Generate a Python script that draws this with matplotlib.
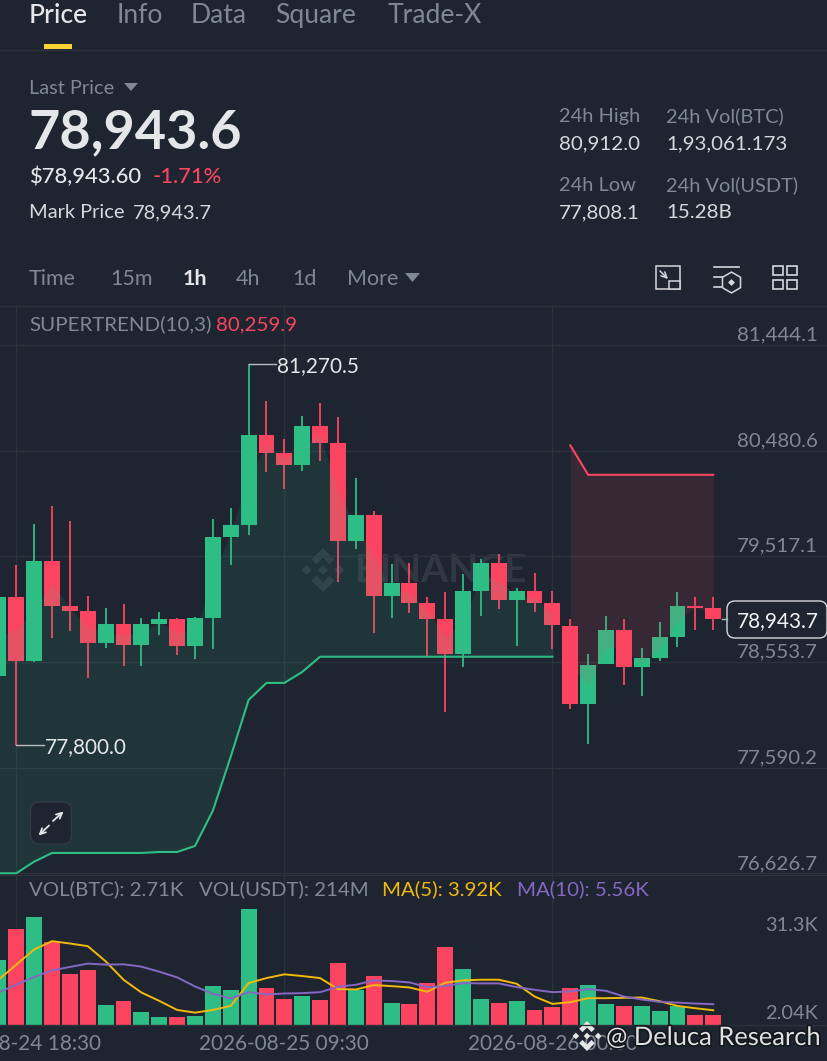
import matplotlib
matplotlib.use("Agg")
import matplotlib.pyplot as plt
import matplotlib.patheffects as pe
from matplotlib.patches import FancyBboxPatch, Polygon, Rectangle
import numpy as np

plt.rcParams['font.family'] = ['Lato', 'DejaVu Sans']

# candle values, one hour per candle
opens = [78426, 79143, 78563, 79477, 79067, 79019, 78724, 78897, 78711, 78903, 78943, 78702, 78952, 79696,
         79802, 80626, 80456, 80347, 80705, 80547, 79657, 79894, 79158, 79271, 79095, 78946, 78627, 79204,
         79459, 79119, 79198, 79089, 78885, 78168, 78532, 78845, 78506, 78587, 78779, 79067, 79046]
closes = [79143, 78563, 79477, 79067, 79019, 78724, 78897, 78711, 78903, 78943, 78702, 78952, 79696, 79802,
          80626, 80456, 80347, 80705, 80547, 79657, 79894, 79158, 79271, 79095, 78946, 78627, 79204, 79459,
          79119, 79198, 79089, 78891, 78168, 78529, 78845, 78506, 78587, 78779, 79067, 79049, 78943]
highs = [79143, 79438, 79809, 79973, 79836, 79155, 79049, 79082, 78958, 79009, 78955, 78967, 79855, 79955,
         81270.5, 80930, 80587, 80796, 80912, 80784, 80231, 79928, 79447, 79456, 79149, 79189, 79356, 79493,
         79538, 79226, 79362, 79198, 78943, 78630, 78976, 78943, 78679, 78921, 79195, 79143, 79143]
lows = [78426, 77800, 78554, 78775, 78836, 78408, 78679, 78517, 78517, 78803, 78618, 78578, 78675, 79438,
        79712, 80283, 80128, 80298, 80383, 79286, 79581, 78821, 78958, 79003, 78609, 78096, 78506, 78976,
        79034, 78703, 79007, 78675, 78128, 77808, 78532, 78344, 78247, 78560, 78693, 78848, 78846]

st_up = [76628, 76628, 76734, 76813, 76813, 76813, 76813, 76813, 76813, 76822, 76822, 76877, 77199, 77691,
         78208, 78363, 78363, 78463, 78602, 78602, 78602, 78602, 78602, 78602, 78602, 78602, 78602, 78602,
         78602, 78602, 78602, 78602]
st_down = [80529, 80259.9, 80259.9, 80259.9, 80259.9, 80259.9, 80259.9, 80259.9, 80259.9]

# volume in thousands of BTC
volume = [17.65, 25.93, 29.20, 22.47, 13.83, 14.92, 5.46, 6.55, 3.55, 2.18, 2.09, 2.37, 10.37, 9.37,
          31.3, 9.82, 6.91, 7.91, 6.64, 16.74, 9.37, 13.10, 6.00, 5.64, 11.37, 21.01, 15.19, 7.00,
          5.82, 6.55, 4.00, 4.82, 10.01, 10.73, 5.55, 5.00, 5.09, 3.82, 5.19, 2.73, 2.71]
ma5 = [12.19, 16.28, 20.38, 22.65, 22.01, 21.29, 17.19, 12.19, 8.73, 6.46, 4.00, 3.27, 4.00, 5.09,
       11.28, 12.64, 13.65, 13.19, 12.64, 9.64, 9.55, 10.73, 10.46, 10.10, 8.92, 11.37, 12.01, 12.19,
       12.19, 11.10, 7.64, 5.64, 6.10, 7.19, 7.19, 7.28, 7.37, 6.37, 5.09, 4.46, 3.92]
ma10 = [8.73, 10.83, 12.92, 14.74, 15.65, 16.56, 16.28, 16.37, 15.74, 14.37, 12.83, 10.37, 8.37, 7.10,
        8.82, 8.19, 8.46, 8.55, 8.82, 10.28, 10.83, 12.01, 11.83, 11.46, 10.19, 10.46, 11.28, 11.19,
        11.19, 10.19, 9.46, 8.82, 9.01, 9.64, 9.19, 7.64, 6.82, 6.19, 6.00, 5.73, 5.56]

price_ticks = [81444.1, 80480.6, 79517.1, 78553.7, 77590.2, 76626.7]
time_ticks = [1, 16, 31]
time_labels = ['2026-08-24 18:30', '2026-08-25 09:30', '2026-08-26 00:30']

BG = '#1f2530'
GRID = '#2c323c'
GREEN = '#2ebd85'
RED = '#fb4560'
GREY = '#7f8894'
LIGHT = '#e4e6ea'
YELLOW = '#f0b90b'
PURPLE = '#8667c4'
PX = 0.72  # 1 px in points at dpi 100

W, H = 828, 1061
fig = plt.figure(figsize=(W / 100, H / 100), dpi=100, facecolor=BG)


def axes_px(top, bottom, zorder):
    ax = fig.add_axes([0, 1 - bottom / H, 1, (bottom - top) / H], zorder=zorder)
    ax.patch.set_alpha(0)
    for s in ax.spines.values():
        s.set_visible(False)
    return ax


def label(x, y, s, size, color=GREY, **kw):
    return ui.text(x, y, s, fontsize=size * PX, color=color, va='baseline', **kw)


def logo(ax, cx, cy, r, color, **kw):
    top = [(0, 1), (.52, .48), (.3, .26), (0, .56), (-.3, .26), (-.52, .48)]
    shapes = [top, [(a, -b) for a, b in top]]
    for dx in (-.74, 0, .74):
        shapes.append([(dx, .22), (dx + .22, 0), (dx, -.22), (dx - .22, 0)])
    for pts in shapes:
        ax.add_patch(Polygon([(cx + a * r, cy - b * r) for a, b in pts], closed=True, fc=color, ec='none', **kw))


# full figure layers in pixel coordinates
back = axes_px(0, H, 0)
back.set_xlim(0, W)
back.set_ylim(H, 0)
back.axis('off')
ui = axes_px(0, H, 5)
ui.set_xlim(0, W)
ui.set_ylim(H, 0)
ui.axis('off')

logo(back, 323, 570, 22, '#313743')
back.text(441, 570, 'BINANCE', fontsize=39 * PX, fontweight='bold', color='#313743', ha='center', va='center')

# candles
idx = np.arange(len(opens))
o, c, h, l = map(np.array, (opens, closes, highs, lows))
colors = [GREEN if b >= a else RED for a, b in zip(o, c)]
xlim = (1.57 / 17.87, (W + 1.57) / 17.87)

ax = axes_px(306, 874, 1)
ax.set_xlim(*xlim)
ax.set_ylim(76621.3, 81798.6)
ax.vlines(idx, l, h, colors=colors, lw=1.3, zorder=3)
ax.bar(idx, np.abs(c - o), bottom=np.minimum(o, c), width=0.89, color=colors, zorder=3)

# supertrend, shaded to the candle mid price
mid = (o + c) / 2
up_x = idx[:len(st_up)]
down_x = idx[len(st_up):]
ax.fill_between(up_x, st_up, mid[:len(st_up)], color=GREEN, alpha=0.11, lw=0, zorder=4)
ax.fill_between(down_x, st_down, mid[len(st_up):], color=RED, alpha=0.11, lw=0, zorder=4)
ax.plot(up_x, st_up, color=GREEN, lw=1.5, zorder=5, clip_on=False)
ax.plot(down_x, st_down, color=RED, lw=1.5, zorder=5)

ax.set_yticks(price_ticks)
ax.set_xticks(time_ticks)
ax.grid(True, color=GRID, lw=1)
ax.set_axisbelow(True)
ax.tick_params(length=0, labelleft=False, labelbottom=False)
for p in price_ticks:
    ax.annotate(f'{p:,.1f}', (1, p), xycoords=('axes fraction', 'data'), xytext=(-10 * PX, 4.5 * PX),
                textcoords='offset points', ha='right', va='baseline', fontsize=20.5 * PX, color=GREY)

# volume panel
vol = axes_px(874, 1024.7, 1)
vol.set_xlim(*xlim)
vol.set_ylim(0, 40.85)
vol.bar(idx, volume, width=0.89, color=colors, zorder=3)
vol.plot(idx, ma5, color=YELLOW, lw=1.4, zorder=4)
vol.plot(idx, ma10, color=PURPLE, lw=1.4, zorder=4)
vol.set_yticks([])
vol.set_xticks(time_ticks)
vol.set_xticklabels(time_labels, fontsize=20.8 * PX, color=GREY)
vol.grid(True, axis='x', color=GRID, lw=1)
vol.set_axisbelow(True)
vol.tick_params(length=0, pad=9 * PX)

# separators
for y, x0 in [(49.5, 0), (305.5, 0), (874.5, 0), (1025, 0)]:
    ui.plot([x0, W], [y, y], color=GRID, lw=1)

# top tabs
for x, s in zip([117, 191, 275, 388], ['Info', 'Data', 'Square', 'Trade-X']):
    label(x, 23, s, 26.5)
label(29, 23, 'Price', 26.5, LIGHT, fontweight='medium')
ui.add_patch(Rectangle((44, 44), 28, 5, fc='#fcd535', ec='none'))

# price block
label(29, 94, 'Last Price', 20)
ui.add_patch(Polygon([(124, 83), (138, 83), (131, 91)], fc=GREY, ec='none'))
label(29, 148, '78,943.6', 54, LIGHT, fontweight='bold')
label(29, 183, '$78,943.60', 22, LIGHT, fontweight='medium')
label(153, 183, '-1.71%', 22, RED, fontweight='medium')
label(29, 218, 'Mark Price', 20, '#d5d8dc')
label(133, 218, '78,943.7', 20, '#d5d8dc')

for x, y, s, val in [(559, 122, '24h High', '80,912.0'), (666, 122, '24h Vol(BTC)', '1,93,061.173'),
                     (559, 191, '24h Low', '77,808.1'), (666, 191, '24h Vol(USDT)', '15.28B')]:
    label(x, y, s, 20)
    label(x, y + 27, val, 20.5, '#d5d8dc')

# interval row
for x, s in zip([29, 110, 236, 292, 347], ['Time', '15m', '4h', '1d', 'More']):
    label(x, 285, s, 21.5)
label(183, 285, '1h', 21.5, LIGHT, fontweight='bold')
ui.add_patch(Polygon([(405, 273), (420, 273), (412.5, 282)], fc=GREY, ec='none'))

# toolbar icons
ICON = '#d5d8dc'
ui.add_patch(Rectangle((656, 266), 24, 23, fc='none', ec=ICON, lw=1.1))
ui.add_patch(Rectangle((669, 281), 11, 8, fc=BG, ec=ICON, lw=1.1))
ui.annotate('', (668, 279), (660, 271), arrowprops=dict(arrowstyle='->', color=ICON, lw=1.1, shrinkA=0, shrinkB=0))
ui.plot([714, 739], [267, 267], color=ICON, lw=1.2)
ui.plot([714, 722], [277, 277], color=ICON, lw=1.2)
ui.plot([714, 722], [287, 287], color=ICON, lw=1.2)
ui.plot(731, 282, marker='h', ms=15, mfc='none', mec=ICON, mew=1.1)
ui.plot(731, 282, marker='D', ms=3.5, mfc=ICON, mec='none')
for x in (773, 787):
    for y in (266, 280):
        ui.add_patch(Rectangle((x, y), 10, 9, fc='none', ec=ICON, lw=1.2))

# indicator captions
label(29, 330, 'SUPERTREND(10,3)', 20.5)
label(216, 330, '80,259.9', 20.5, RED)
label(29, 895, 'VOL(BTC): 2.71K', 20.4)
label(199, 895, 'VOL(USDT): 214M', 20.4)
label(382, 895, 'MA(5): 3.92K', 20.4, YELLOW)
label(517, 895, 'MA(10): 5.56K', 20.4, PURPLE)
label(818, 931, '31.3K', 20, ha='right')
label(818, 1019, '2.04K', 20, ha='right')

# high and low markers
ui.plot([249, 276], [364, 364], color='#b8bcc2', lw=1)
label(277, 372, '81,270.5', 20.8, LIGHT)
ui.plot([16.5, 44], [745, 745], color='#b8bcc2', lw=1)
label(45, 753, '77,800.0', 20.8, LIGHT)

# last price tag
ui.plot([722, 727], [619, 619], color='#b8bcc2', lw=1)
ui.add_patch(FancyBboxPatch((735, 609), 84, 21, boxstyle='round,pad=8,rounding_size=8', fc=BG, ec='#d5d8dc', lw=1))
label(737, 627, '78,943.7', 20.8, '#f2f3f5')

# expand button
ui.add_patch(FancyBboxPatch((38.5, 810), 25, 26, boxstyle='round,pad=8,rounding_size=9', fc=BG, ec='#333945', lw=1))
for a, b in [((53, 821), (63.5, 811.5)), ((49, 825.5), (38.5, 835.5))]:
    ui.annotate('', b, a, arrowprops=dict(arrowstyle='->', color='#e4e6ea', lw=1.3, shrinkA=0, shrinkB=0))

# repost watermark
shadow = [pe.withStroke(linewidth=2.5, foreground='#14171d')]
logo(ui, 587, 1036, 15, '#e6e6e6')
t = label(606, 1045, '@ Deluca Research', 25.5, '#dfe0e2')
t.set_path_effects(shadow)

fig.savefig('out.png', dpi=100, facecolor=BG)
